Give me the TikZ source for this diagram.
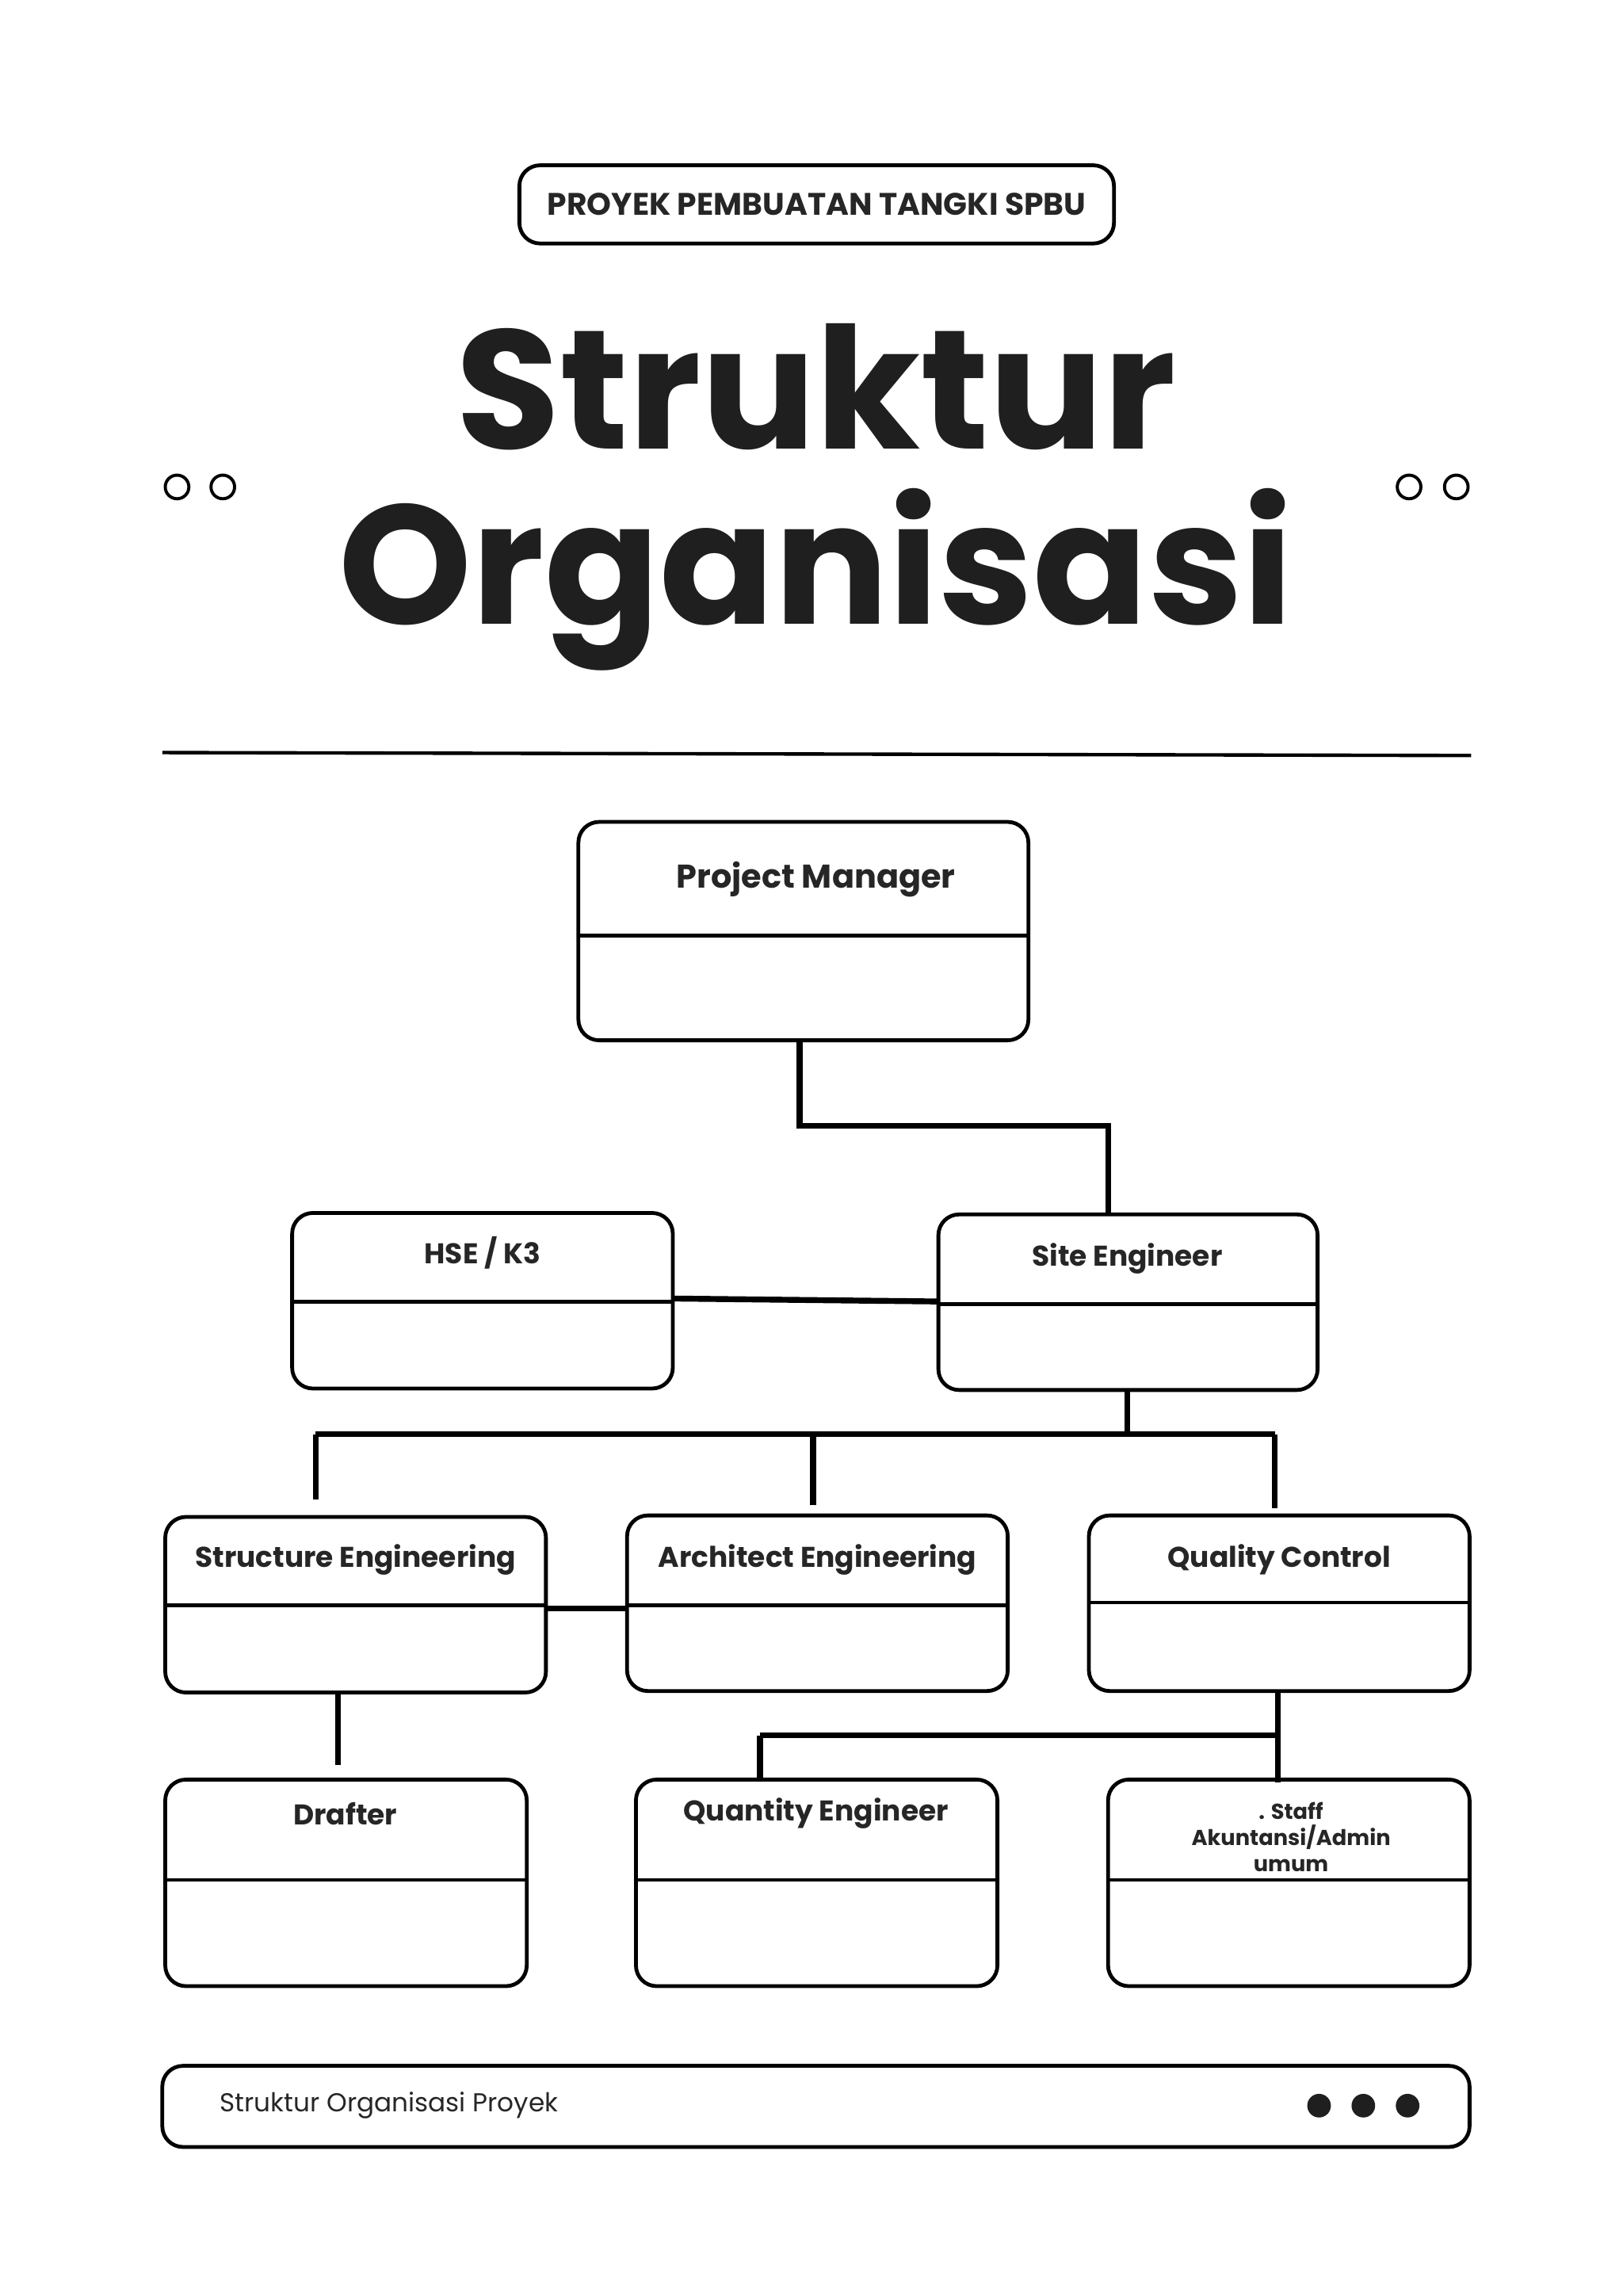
\documentclass[tikz,border=0pt]{standalone}
\usepackage{fontspec}
\setmainfont{Poppins}
\begin{document}
\begin{tikzpicture}[x=0.03cm,y=-0.03cm,
 box/.style={draw,line width=2.2pt,rounded corners=12pt},
 con/.style={line width=3.4pt},
 lbl/.style={font=\fontsize{16.5}{19}\selectfont\bfseries,text=black!85},
 div/.style={line width=2.2pt}]
\useasboundingbox (0,0) rectangle (1100,1556);
\fill[white] (0,0) rectangle (1100,1556);
% header
\node[box,minimum width=403*0.03cm,minimum height=53*0.03cm,font=\fontsize{18}{20}\selectfont\bfseries,text=black!85] (top) at (553.5,138.5) {PROYEK PEMBUATAN TANGKI SPBU};
\node[font=\fontsize{98}{98}\selectfont\bfseries,text=black!88] (t1) at (553,262) {Struktur};
\node[font=\fontsize{98}{98}\selectfont\bfseries,text=black!88] (t2) at (553,393) {Organisasi};
\foreach \x in {120,151,955,987} \draw[line width=1.8pt] (\x,330) circle (8);
\draw[line width=2pt] (110,510) -- (997,512);
% boxes
\newcommand{\obox}[7]{% name x1 y1 x2 y2 ydiv text
 \draw[box] (#2,#3) rectangle (#4,#5);
 \draw[div] (#2,#6) -- (#4,#6);
 \coordinate (#1) at ({(#2+#4)/2},{(#3+#5)/2});}
\obox{pm}{392}{557}{697}{705}{634}{}
\node[lbl,font=\fontsize{19}{22}\selectfont\bfseries] (pmt) at (553,596) {Project Manager};
\obox{hse}{198}{822}{456}{941}{882}{}
\node[lbl] (hset) at (327,849) {HSE / K3};
\obox{se}{636}{823}{893}{942}{884}{}
\node[lbl] (set) at (764,853) {Site Engineer};
\obox{st}{112}{1028}{370}{1147}{1088}{}
\node[lbl] (stt) at (241,1057) {Structure Engineering};
\obox{ar}{425}{1027}{683}{1146}{1088}{}
\node[lbl] (art) at (554,1057) {Architect Engineering};
\obox{qc}{738}{1027}{996}{1146}{1086}{}
\node[lbl] (qct) at (867,1057) {Quality Control};
\obox{dr}{112}{1206}{357}{1346}{1274}{}
\node[lbl] (drt) at (234,1229) {Drafter};
\obox{qe}{431}{1206}{676}{1346}{1274}{}
\node[lbl] (qet) at (553,1229) {Quantity Engineer};
\obox{sa}{751}{1206}{996}{1346}{1274}{}
\node[lbl,font=\fontsize{12.5}{15}\selectfont\bfseries,align=center] (sat) at (875,1245) {. Staff\\Akuntansi/Admin\\umum};
% connectors
\coordinate (a1) at (542,705); \coordinate (a2) at (751,822);
\draw[con] (a1) -- (542,763) -- (751,763) -- (a2);
\draw[con] (456,880) -- (636,882);
\coordinate (b0) at (764,942);
\draw[con] (b0) -- (764,972);
\draw[con] (214,972) -- (864,972);
\draw[con] (214,972) -- (214,1016);
\draw[con] (551,972) -- (551,1020);
\draw[con] (864,972) -- (864,1022);
\draw[con] (370,1090) -- (425,1090);
\draw[con] (229,1147) -- (229,1196);
\draw[con] (866,1146) -- (866,1208);
\draw[con] (515,1176) -- (866,1176);
\draw[con] (515,1176) -- (515,1205);
% footer
\draw[box] (110,1400) rectangle (996,1455);
\node[anchor=west,font=\fontsize{15}{18}\selectfont,text=black!85] (ft) at (145,1427) {Struktur Organisasi Proyek};
\foreach \x in {894,924,954} \fill[black!88] (\x,1427) circle (8);
\end{tikzpicture}
\end{document}
